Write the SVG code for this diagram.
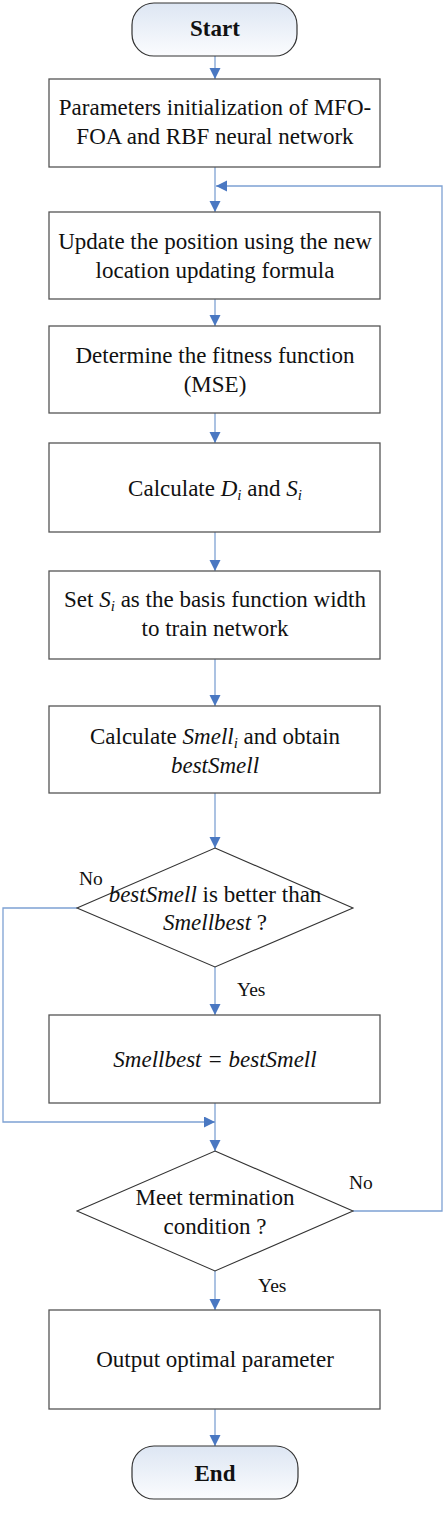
<svg xmlns="http://www.w3.org/2000/svg" width="445" height="1520" viewBox="0 0 445 1520">
<style>
.box{fill:#fff;stroke:#555;stroke-width:1.3}
.term{fill:url(#tg);stroke:#333;stroke-width:1.2}
.dia{fill:#fff;stroke:#333;stroke-width:1.1}
text{font-family:"Liberation Serif","DejaVu Serif",serif}
.t{font-size:23px;fill:#111;text-anchor:middle}
.tb{font-size:23px;font-weight:bold;fill:#111;text-anchor:middle}
.lbl{font-size:19.5px;fill:#111}
.i{font-style:italic}
.sub{font-size:15px;font-style:italic}
.c{fill:none;stroke:#7ea1d3;stroke-width:1.3;marker-end:url(#ah)}
</style>
<defs>
<linearGradient id="tg" x1="0" y1="0" x2="0" y2="1">
<stop offset="0" stop-color="#dde6f3"/>
<stop offset="1" stop-color="#fbfcfe"/>
</linearGradient>
<marker id="ah" markerUnits="userSpaceOnUse" markerWidth="12" markerHeight="12" refX="11" refY="5.5" orient="auto">
<path d="M0,0 L11,5.5 L0,11 z" fill="#4a78c2"/>
</marker>
</defs>
<rect width="445" height="1520" fill="#fff"/>
<g id="connectors">
<path class="c" d="M215,56 V79"/>
<path class="c" d="M215,167 V212"/>
<path class="c" d="M215,299 V326"/>
<path class="c" d="M215,413 V443"/>
<path class="c" d="M215,532 V571"/>
<path class="c" d="M215,659 V706"/>
<path class="c" d="M215,793 V848"/>
<path class="c" d="M215,967 V1015"/>
<path class="c" d="M215,1103 V1151"/>
<path class="c" d="M215,1271 V1310"/>
<path class="c" d="M215,1409 V1446"/>
<path class="c" d="M77,908 H3 V1122 H215"/>
<path class="c" d="M353,1211 H442 V186 H216"/>
</g>
<g id="start"><rect class="term" x="132" y="3" width="165" height="53" rx="22"/><text class="tb" x="215" y="36">Start</text></g>
<g id="init"><rect class="box" x="49" y="79" width="331" height="88"/><text class="t" x="215" y="115">Parameters initialization of MFO-</text><text class="t" x="215" y="144">FOA and RBF neural network</text></g>
<g id="update"><rect class="box" x="49" y="212" width="331" height="87"/><text class="t" x="215" y="249">Update the position using the new</text><text class="t" x="215" y="278">location updating formula</text></g>
<g id="fitness"><rect class="box" x="49" y="326" width="331" height="87"/><text class="t" x="215" y="363">Determine the fitness function</text><text class="t" x="215" y="392">(MSE)</text></g>
<g id="calcDS"><rect class="box" x="49" y="443" width="331" height="89"/><text class="t" x="215" y="496">Calculate <tspan class="i">D</tspan><tspan class="sub" dy="4">i</tspan><tspan dy="-4"> and </tspan><tspan class="i">S</tspan><tspan class="sub" dy="4">i</tspan></text></g>
<g id="setS"><rect class="box" x="49" y="571" width="331" height="88"/><text class="t" x="215" y="607">Set <tspan class="i">S</tspan><tspan class="sub" dy="4">i</tspan><tspan dy="-4"> as the basis function width</tspan></text><text class="t" x="215" y="636">to train network</text></g>
<g id="calcSmell"><rect class="box" x="49" y="706" width="331" height="87"/><text class="t" x="215" y="744">Calculate <tspan class="i">Smell</tspan><tspan class="sub" dy="4">i</tspan><tspan dy="-4"> and obtain</tspan></text><text class="t i" x="215" y="773">bestSmell</text></g>
<g id="decision1"><polygon class="dia" points="215,848 353,908 215,967 77,908"/><text class="t" x="215" y="902"><tspan class="i">bestSmell</tspan> is better than</text><text class="t" x="215" y="930"><tspan class="i">Smellbest</tspan> ?</text></g>
<g id="assign"><rect class="box" x="49" y="1015" width="331" height="88"/><text class="t i" x="215" y="1067">Smellbest = bestSmell</text></g>
<g id="decision2"><polygon class="dia" points="215,1151 353,1211 215,1271 77,1211"/><text class="t" x="215" y="1205">Meet termination</text><text class="t" x="215" y="1234">condition ?</text></g>
<g id="output"><rect class="box" x="49" y="1310" width="331" height="99"/><text class="t" x="215" y="1367">Output optimal parameter</text></g>
<g id="end"><rect class="term" x="132" y="1446" width="166" height="53" rx="22"/><text class="tb" x="215" y="1481">End</text></g>
<g id="labels">
<text class="lbl" x="79" y="885">No</text>
<text class="lbl" x="237" y="996">Yes</text>
<text class="lbl" x="349" y="1189">No</text>
<text class="lbl" x="258" y="1292">Yes</text>
</g>
</svg>
